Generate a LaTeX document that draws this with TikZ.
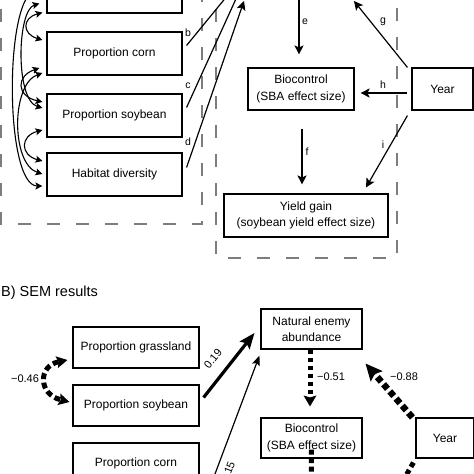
\documentclass[tikz,border=0pt]{standalone}
\usepackage{fontspec}
\setmainfont{Liberation Sans}
\usetikzlibrary{arrows.meta}
\definecolor{framegray}{RGB}{125,125,125}
\begin{document}
\begin{tikzpicture}[x=1pt,y=-1pt,
  box/.style={draw, line width=1.1pt, inner sep=0pt, align=center, font=\fontsize{12}{16.5}\selectfont},
  frame/.style={draw=framegray, line width=1.6pt, dash pattern=on 13pt off 16pt},
  thinarrow/.style={line width=1.2pt, -{Stealth[length=9pt,width=9pt,inset=2pt]}},
  plainline/.style={line width=1.2pt},
  corr/.style={line width=1.1pt, {Stealth[length=7pt,width=7pt,inset=1.5pt]}-{Stealth[length=7pt,width=7pt,inset=1.5pt]}},
  lab/.style={font=\fontsize{10.5}{11}\selectfont, inner sep=0pt},
  num/.style={font=\fontsize{11}{12}\selectfont, inner sep=0pt},
  boldarrow/.style={line width=3.2pt, -{Stealth[length=16pt,width=13pt,inset=3pt,line width=0pt]}},
  thickdash/.style={line width=5pt, dash pattern=on 4.5pt off 3.5pt, -{Stealth[length=11pt,width=13pt,inset=2pt,line width=0pt]}},
  heavydash/.style={line width=6.5pt, dash pattern=on 6pt off 3.5pt, -{Stealth[length=17pt,width=16pt,inset=3pt,line width=0pt]}},
  dashcorr/.style={line width=5pt, dash pattern=on 6pt off 3.5pt, {Stealth[length=11pt,width=12pt,inset=2pt,line width=0pt]}-{Stealth[length=11pt,width=12pt,inset=2pt,line width=0pt]}},
  dashend/.style={line width=5pt, dash pattern=on 6pt off 3.5pt, -{Stealth[length=11pt,width=12pt,inset=2pt,line width=0pt]}},
  dashplain/.style={line width=5pt, dash pattern=on 5pt off 3.5pt}
]
\useasboundingbox (0,0) rectangle (474,474);

% ---------- Part A ----------
\draw[frame] (1,-20) -- (1,224) -- (202,224) -- (202,-20);
\draw[frame] (216,-20) -- (216,258) -- (397,258) -- (397,-20);

\node[box, minimum width=135pt, minimum height=43pt] (top1) at (114.5,-8.5) {};
\node[box, minimum width=135pt, minimum height=43pt] (corn) at (114.5,53.5) {Proportion corn};
\node[box, minimum width=135pt, minimum height=43pt] (soy) at (114.5,115.5) {Proportion soybean};
\node[box, minimum width=135pt, minimum height=43pt] (hab) at (114.5,174.5) {Habitat diversity};
\node[box, minimum width=106pt, minimum height=42pt] (bio) at (301,89) {Biocontrol\\(SBA effect size)};
\node[box, minimum width=61pt, minimum height=42pt] (year) at (442.5,89) {Year};
\node[box, minimum width=164pt, minimum height=43pt] (yield) at (306,215.5) {Yield gain\\(soybean yield effect size)};

% correlations among landscape variables
\draw[corr] ([shift={(-4,-1)}]top1.south west) .. controls (22,18) and (22,34) .. ([shift={(-4,-13.5)}]corn.west);
\draw[corr] ([shift={(-7,14.5)}]corn.west) .. controls (16,76) and (16,96) .. ([shift={(-4,-13.5)}]soy.west);
\draw[corr] ([shift={(-4,19.5)}]corn.west) .. controls (11,84) and (11,164) .. ([shift={(-4,-0.5)}]hab.west);
\draw[corr] ([shift={(-7,-10)}]top1.south west) .. controls (17,10) and (15,100) .. ([shift={(-4,-7.5)}]soy.west);
\draw[corr] ([shift={(-4,-1.5)}]top1.west) .. controls (4,-10) and (4,186) .. ([shift={(-4,11.5)}]hab.west);
\draw[corr] ([shift={(-4,14.5)}]soy.west) .. controls (20,136) and (20,155) .. ([shift={(-4,-13.5)}]hab.west);

% paths to natural enemy (off the top)
\coordinate (pb) at (232,-10);
\coordinate (pc) at (240,-10);
\coordinate (pd) at (244,1);
\coordinate (pe) at (299,-10);
\coordinate (pg) at (354,1);
\draw[plainline] ([shift={(4,-8)}]corn.east) -- (pb);
\draw[plainline] ([shift={(4,-8)}]soy.east) -- (pc);
\draw[thinarrow] ([shift={(4,-7)}]hab.east) -- (pd);
\node[lab] (lb) at (188,33) {b};
\node[lab] (lc) at (188,86) {c};
\node[lab] (ld) at (188,142) {d};

\draw[thinarrow, shorten >=13pt] (pe) -- (pe |- bio.north);
\node[lab] (le) at (305,22) {e};
\draw[thinarrow] ([xshift=-4pt]year.north west) -- (pg);
\node[lab] (lg) at (383,22) {g};
\coordinate (hs) at ([shift={(-4,4)}]year.west);
\draw[thinarrow, shorten >=6pt] (hs) -- (hs -| bio.east);
\node[lab] (lh) at (383,85) {h};
\draw[thinarrow, shorten <=18pt, shorten >=9pt] ([xshift=1pt]bio.south) -- ([xshift=1pt]bio.south |- yield.north);
\node[lab] (lf) at (307,152) {f};
\draw[thinarrow] ([shift={(-4,5)}]year.south west) -- ([shift={(60,-6)}]yield.north);
\node[lab] (li) at (383,145) {i};

% ---------- Part B ----------
\node[anchor=west, inner sep=0pt, font=\fontsize{14.5}{16}\selectfont] (title) at (1,293) {B) SEM results};

\node[box, minimum width=126pt, minimum height=41pt] (grass) at (136,347.5) {Proportion grassland};
\node[box, minimum width=126pt, minimum height=41pt] (soy2) at (136,405.5) {Proportion soybean};
\node[box, minimum width=126pt, minimum height=41pt] (corn2) at (136,463.5) {Proportion corn};
\node[box, minimum width=101pt, minimum height=40pt] (ne) at (311.5,329) {Natural enemy\\abundance};
\node[box, minimum width=101pt, minimum height=40pt] (bio2) at (311.5,438) {Biocontrol\\(SBA effect size)};
\node[box, minimum width=58pt, minimum height=40pt] (year2) at (445,438) {Year};

\draw[dashcorr] ([shift={(-5,12.5)}]grass.west) .. controls (38,366) and (38,394) .. ([shift={(-3,-3.5)}]soy2.west);
\node[num] (l046) at (25,379) {−0.46};
\coordinate (pcorr) at (48,512);
\draw[dashend] (pcorr) .. controls (48,495) and (58,482) .. ([shift={(-6,12.5)}]corn2.west);

\draw[boldarrow] ([shift={(4,-8)}]soy2.east) -- ([shift={(-6,4)}]ne.west);
\node[num, rotate=51] (l019) at (213,359) {0.19};

\coordinate (p15) at (209,490);
\draw[line width=1.2pt, -{Stealth[length=10pt,width=8pt,inset=2pt]}] (p15) -- ([shift={(-1,6)}]ne.south west);
\node[num, rotate=69] (l015) at (228,472) {0.15};

\draw[thickdash, shorten >=11pt] ([xshift=-1.5pt]ne.south) -- ([xshift=-1.5pt]ne.south |- bio2.north);
\node[num] (l051) at (331,377) {−0.51};

\draw[heavydash] ([xshift=-3pt]year2.north west) -- ([shift={(3,14)}]ne.south east);
\node[num] (l088) at (404,377) {−0.88};

\coordinate (pyy) at (392,500);
\draw[dashplain] ([shift={(-2,4)}]year2.south west) -- (pyy);
\coordinate (pbb) at (311,500);
\draw[dashplain] ([yshift=9pt]bio2.south) -- (pbb);
\end{tikzpicture}
\end{document}
